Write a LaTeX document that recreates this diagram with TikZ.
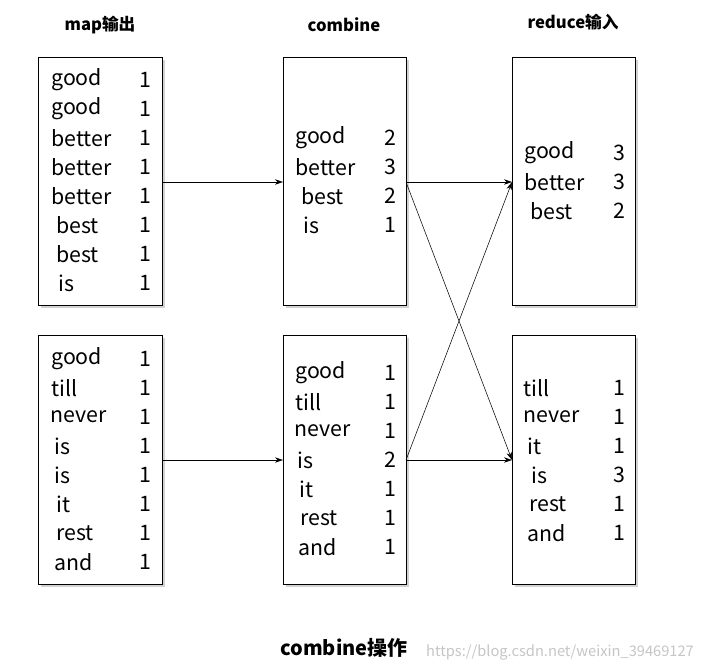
\documentclass[tikz,border=0pt]{standalone}
\usepackage{fontspec}
\setmainfont{Noto Sans CJK SC}
\usetikzlibrary{shadows,arrows.meta}
\tikzset{box/.style={draw=black,fill=white,drop shadow={shadow xshift=2pt,shadow yshift=-2pt,opacity=0.35}},
wd/.style={anchor=west,inner sep=0pt,font=\fontsize{16}{18}\selectfont},
nm/.style={anchor=center,inner sep=0pt,font=\fontsize{16}{18}\selectfont},
ttl/.style={font=\bfseries\fontsize{12.5}{14}\selectfont},
arr/.style={-{Stealth[length=6pt,width=4pt]},thin}}
\begin{document}
\begin{tikzpicture}[x=0.75pt,y=-0.75pt]
\useasboundingbox[fill=white] (0,0) rectangle (705,671);
\draw[box] (38,57) rectangle (162,305) coordinate (m1br); \coordinate (m1) at (162,182);
\draw[box] (38,335) rectangle (162,584); \coordinate (m2) at (162,460);
\draw[box] (283,57) rectangle (406,305); \coordinate (c1l) at (283,182); \coordinate (c1r) at (406,182);
\draw[box] (283,335) rectangle (406,584); \coordinate (c2l) at (283,460); \coordinate (c2r) at (406,460);
\draw[box] (512,57) rectangle (635,305); \coordinate (r1) at (512,182);
\draw[box] (512,335) rectangle (635,584); \coordinate (r2) at (512,460);
\draw[arr] (m1)--(c1l); \draw[arr] (m2)--(c2l);
\draw[arr] (c1r)--(r1); \draw[arr] (c1r)--(r2); \draw[arr] (c2r)--(r1); \draw[arr] (c2r)--(r2);
\node[ttl] (t1) at (100,25) {map输出};
\node[ttl] (t2) at (344,25) {combine};
\node[ttl] (t3) at (573,22) {reduce输入};
\node[font=\bfseries\fontsize{15}{17}\selectfont] (t4) at (344,648) {combine操作};
\node[text=gray!45,font=\fontsize{11}{13}\selectfont] (wm) at (560,652) {https://blog.csdn.net/weixin\_39469127};
% map top
\foreach \w/\x/\n [count=\i] in {good/51/1,good/51/1,better/51/1,better/51/1,better/51/1,best/56/1,best/56/1,is/58/1}
 {\node[wd] (a\i) at (\x,{80+29*(\i-1)}) {\w}; \node[nm] (an\i) at (145,{80+29*(\i-1)}) {\n};}
\foreach \w/\x/\n [count=\i] in {good/51/1,till/51/1,never/50/1,is/54/1,is/54/1,it/56/1,rest/56/1,and/54/1}
 {\node[wd] (b\i) at (\x,{359+29*(\i-1)}) {\w}; \node[nm] (bn\i) at (145,{359+29*(\i-1)}) {\n};}
\foreach \w/\x/\n [count=\i] in {good/295/2,better/295/3,best/301/2,is/303/1}
 {\node[wd] (c\i) at (\x,{138+29*(\i-1)}) {\w}; \node[nm] (cn\i) at (390,{138+29*(\i-1)}) {\n};}
\foreach \w/\x/\n [count=\i] in {good/295/1,till/295/1,never/294/1,is/297/2,it/299/1,rest/300/1,and/298/1}
 {\node[wd] (d\i) at (\x,{373+29*(\i-1)}) {\w}; \node[nm] (dn\i) at (390,{373+29*(\i-1)}) {\n};}
\foreach \w/\x/\n [count=\i] in {good/524/3,better/524/3,best/530/2}
 {\node[wd] (e\i) at (\x,{153+29*(\i-1)}) {\w}; \node[nm] (en\i) at (619,{153+29*(\i-1)}) {\n};}
\foreach \w/\x/\n [count=\i] in {till/523/1,never/523/1,it/527/1,is/531/3,rest/529/1,and/527/1}
 {\node[wd] (f\i) at (\x,{388+29*(\i-1)}) {\w}; \node[nm] (fn\i) at (619,{388+29*(\i-1)}) {\n};}
\end{tikzpicture}
\end{document}
